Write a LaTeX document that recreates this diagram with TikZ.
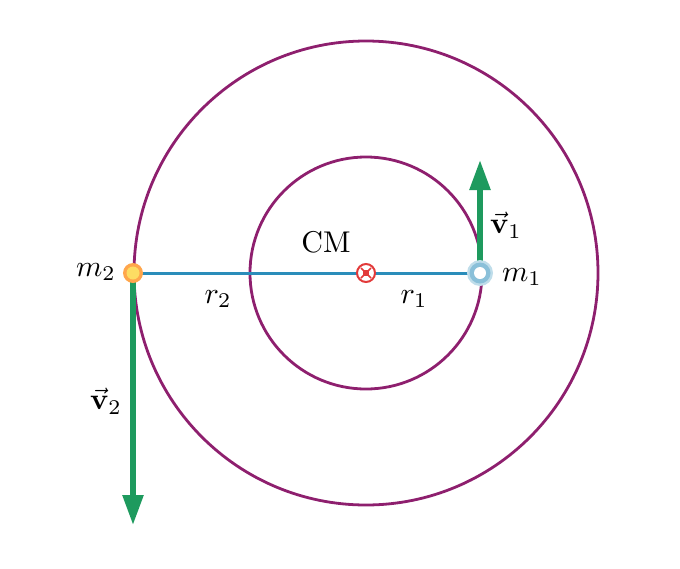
\documentclass[tikz,border=0pt]{standalone}
\usepackage{amsmath}
\usetikzlibrary{arrows.meta,calc}
\definecolor{orbit}{HTML}{8E1F6E}
\definecolor{sep}{HTML}{2A8DBA}
\definecolor{vel}{HTML}{1E9A5E}
\definecolor{cmred}{HTML}{E23A3A}
\tikzset{
  orbitline/.style={draw=orbit, line width=2.8pt},
  sepline/.style={draw=sep, line width=3pt},
  velarrow/.style={draw=vel, line width=5.5pt, -{Triangle[width=20pt,length=30pt]}},
  lbl/.style={scale=3.0, inner sep=0pt},
}
\begin{document}
\begin{tikzpicture}[x=1pt,y=-1pt]
\useasboundingbox (0,0) rectangle (680,568);
\coordinate (O) at (366,273);
\draw[orbitline] (O) circle (232);
\draw[orbitline] (O) circle (116);
\node (m2) at (133,273) {};
\node (m1) at (480,273) {};
\draw[sepline] (m2.center) -- (m1.center);
\coordinate (v1t) at (480,160);
\coordinate (v2t) at (133,525);
\draw[velarrow] (480,262) -- (v1t);
\draw[velarrow] (133,282) -- (v2t);
% masses
\fill[sep!30] (m1.center) circle (13);
\fill[sep!55!white] (m1.center) circle (10.5);
\fill[white] (m1.center) circle (6);
\fill[orange!70] (m2.center) circle (10);
\fill[yellow!60!orange!60] (m2.center) circle (6.5);
% CM
\node[circle, draw=cmred, fill=white, line width=2pt, minimum size=18pt, inner sep=0pt] (cm) at (O) {};
\draw[cmred, line width=1.6pt] ($(O)+(-5,-5)$) -- ($(O)+(5,5)$) ($(O)+(-5,5)$) -- ($(O)+(5,-5)$);
\fill[cmred] ($(O)+(-3,-3)$) rectangle ($(O)+(3,3)$);
% labels
\node[lbl] (cml) at (326,242) {CM};
\node[lbl] (r1l) at (414,299) {$r_1$};
\node[lbl] (r2l) at (218,299) {$r_2$};
\node[lbl] (m1l) at (522,277) {$m_1$};
\node[lbl] (m2l) at (96,272) {$m_2$};
\node[lbl] (v1l) at (506,225) {$\vec{\mathbf v}_1$};
\node[lbl] (v2l) at (106,401) {$\vec{\mathbf v}_2$};
\end{tikzpicture}
\end{document}
